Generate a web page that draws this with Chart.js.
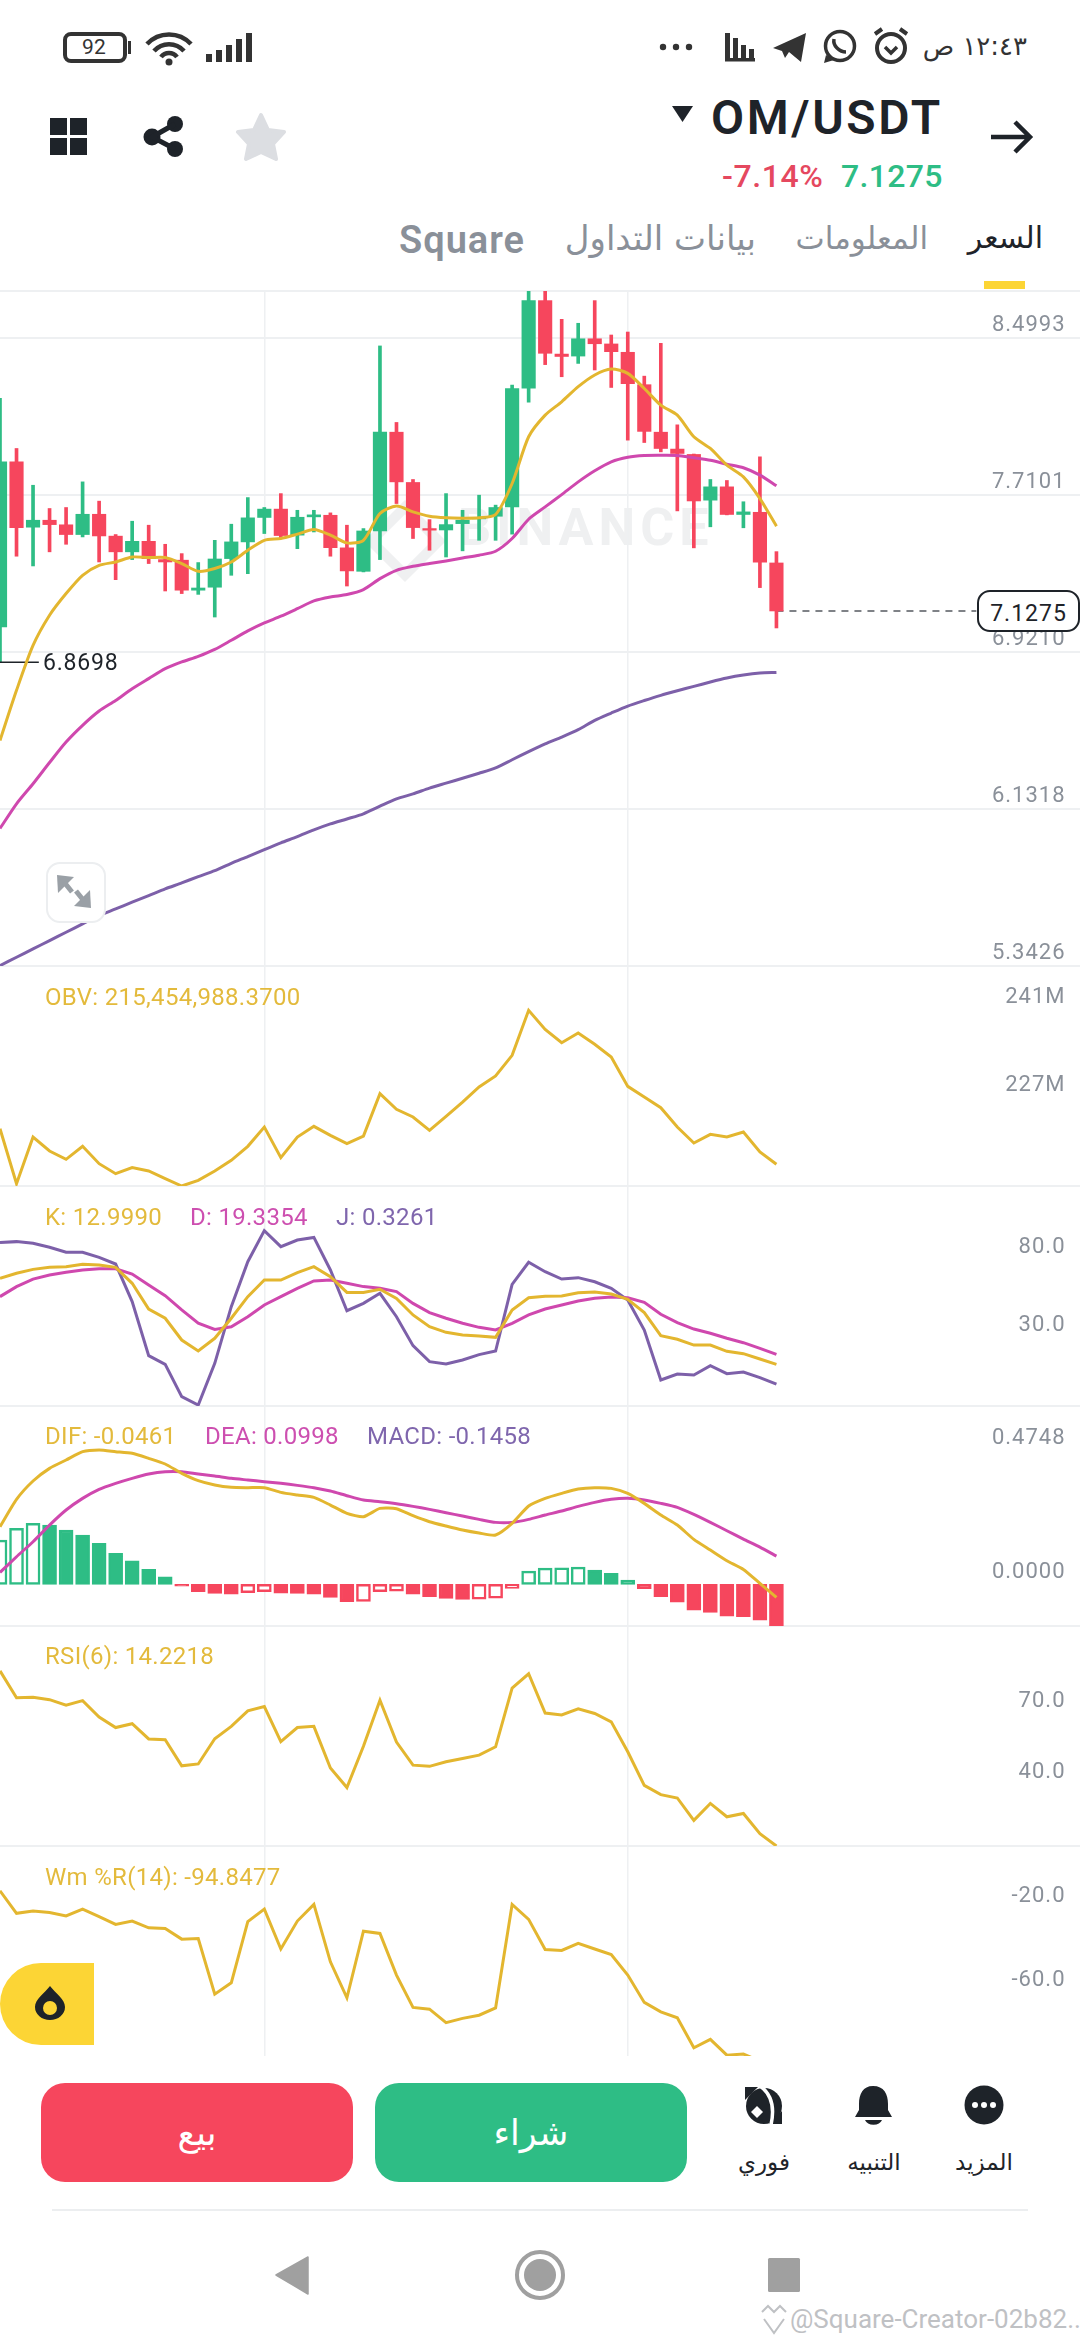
<!DOCTYPE html>
<html lang="ar">
<head>
<meta charset="utf-8">
<title>OM/USDT</title>
<script src="https://cdn.jsdelivr.net/npm/chart.js@4/dist/chart.umd.min.js"></script>
<style>
html,body{margin:0;padding:0;background:#fff;width:1080px;height:2340px;overflow:hidden;font-family:Roboto,"DejaVu Sans",sans-serif}
#page{position:relative;width:1080px;height:2340px;overflow:hidden;background:#fff}
canvas{position:absolute;left:0}
.d{position:absolute;left:0;width:1080px;height:2px;background:#eef0f2}
.t{position:absolute;white-space:nowrap;line-height:26px;font-size:24px;letter-spacing:.3px}
.y{color:#e3ba3c}.m{color:#cd4fb0}.p{color:#7f66ad}
.ar{font-family:"DejaVu Sans",Roboto,sans-serif;direction:rtl}
.btn{position:absolute;top:2083px;height:99px;width:312px;border-radius:24px;color:#fff;text-align:center;line-height:100px;font-size:35px}
</style>
</head>
<body>
<div id="page">
<div style="position:absolute;left:458px;top:500px;font:700 52px/56px Roboto,sans-serif;letter-spacing:5px;color:#eff0f1">BINANCE</div>
<div style="position:absolute;left:376px;top:512px;width:38px;height:38px;border:10px solid #eff0f1;transform:rotate(45deg)"></div>

<div class="d" style="top:290px"></div>
<div class="d" style="top:965px"></div>
<div class="d" style="top:1185px"></div>
<div class="d" style="top:1405px"></div>
<div class="d" style="top:1625px"></div>
<div class="d" style="top:1845px"></div>

<canvas id="cPrice" width="1080" height="675" style="top:291px"></canvas>
<canvas id="cObv" width="1080" height="220" style="top:966px"></canvas>
<canvas id="cKdj" width="1080" height="220" style="top:1186px"></canvas>
<canvas id="cMacd" width="1080" height="220" style="top:1406px"></canvas>
<canvas id="cRsi" width="1080" height="220" style="top:1626px"></canvas>
<canvas id="cWr" width="1080" height="220" style="top:1846px"></canvas>

<div class="t" style="left:43px;top:650px;color:#1e2329;font-size:23px;letter-spacing:.8px">6.8698</div>
<div style="position:absolute;left:977px;top:590px;width:99px;height:38px;border:2px solid #1e2329;border-radius:13px;background:#fff;text-align:center;font-size:23px;line-height:44px;letter-spacing:1px;color:#1e2329">7.1275</div>

<div class="t y" style="left:45px;top:984px">OBV: 215,454,988.3700</div>
<div class="t y" style="left:45px;top:1204px">K: 12.9990</div>
<div class="t m" style="left:190px;top:1204px">D: 19.3354</div>
<div class="t p" style="left:336px;top:1204px">J: 0.3261</div>
<div class="t y" style="left:45px;top:1423px">DIF: -0.0461</div>
<div class="t m" style="left:205px;top:1423px">DEA: 0.0998</div>
<div class="t p" style="left:367px;top:1423px">MACD: -0.1458</div>
<div class="t y" style="left:45px;top:1643px">RSI(6): 14.2218</div>
<div class="t y" style="left:45px;top:1864px">Wm %R(14): -94.8477</div>

<div style="position:absolute;left:46px;top:862px;width:56px;height:57px;border:2px solid #eceef0;border-radius:14px;background:#fff"></div>
<div style="position:absolute;left:0;top:1963px;width:94px;height:82px;background:#fcd535;border-radius:41px 0 0 41px"></div>

<div style="position:absolute;left:0;top:0;width:1080px;height:290px;background:#fff"></div>
<div style="position:absolute;left:0;top:2056px;width:1080px;height:284px;background:#fff"></div>

<div class="t" style="left:63px;top:34px;width:62px;text-align:center;font-size:21px;color:#333">92</div>
<div class="t ar" style="right:53px;top:30px;font-size:26px;line-height:32px;color:#333;letter-spacing:0">١٢:٤٣ ص</div>
<div class="t" style="left:711px;top:90px;font-size:48px;line-height:56px;font-weight:600;letter-spacing:2.6px;color:#1e2329">OM/USDT</div>
<div class="t" style="left:722px;top:158px;font-size:32px;line-height:36px;font-weight:500;letter-spacing:.6px;color:#e5485f">-7.14%</div>
<div class="t" style="left:841px;top:158px;font-size:32px;line-height:36px;font-weight:500;letter-spacing:.3px;color:#2ebd85">7.1275</div>
<div class="t ar" style="left:971px;top:216px;width:72px;text-align:center;font-size:30px;line-height:44px;letter-spacing:0;color:#1e2329">السعر</div>
<div class="t ar" style="left:798px;top:216px;width:130px;text-align:center;font-size:31px;line-height:44px;letter-spacing:0;color:#8a9099">المعلومات</div>
<div class="t ar" style="left:566px;top:216px;width:190px;text-align:center;font-size:34px;line-height:44px;letter-spacing:0;color:#8a9099">بيانات التداول</div>
<div class="t" style="left:399px;top:218px;font-size:38px;line-height:44px;font-weight:600;letter-spacing:1px;color:#8a9099">Square</div>

<div class="btn ar" style="left:41px;background:#f6465d">بيع</div>
<div class="btn ar" style="left:375px;background:#2ebd85">شراء</div>
<div class="t ar" style="left:724px;top:2146px;width:80px;text-align:center;font-size:23px;line-height:32px;letter-spacing:0;color:#1e2329">فوري</div>
<div class="t ar" style="left:834px;top:2146px;width:80px;text-align:center;font-size:23px;line-height:32px;letter-spacing:0;color:#1e2329">التنبيه</div>
<div class="t ar" style="left:944px;top:2146px;width:80px;text-align:center;font-size:23px;line-height:32px;letter-spacing:0;color:#1e2329">المزيد</div>
<div class="t" style="left:790px;top:2304px;font-size:26px;line-height:30px;letter-spacing:0;color:#bfc1c4;text-shadow:0 0 2px #fff">@Square-Creator-02b82...</div>

<svg width="1080" height="2340" viewBox="0 0 1080 2340" style="position:absolute;left:0;top:0;pointer-events:none">
  <rect x="65" y="34" width="60" height="27" rx="6" fill="none" stroke="#333" stroke-width="4"/>
  <rect x="128" y="41" width="3" height="13" fill="#333"/>
  <g fill="none" stroke="#333" stroke-width="4.5">
    <path d="M147 44 A30 30 0 0 1 191 44"/><path d="M154 51 A20 20 0 0 1 184 51"/><path d="M161 57 A10 10 0 0 1 177 57"/>
  </g>
  <circle cx="169" cy="62" r="3.5" fill="#333"/>
  <g fill="#333">
    <rect x="206" y="54" width="6" height="8"/><rect x="216" y="50" width="6" height="12"/><rect x="226" y="45" width="6" height="17"/><rect x="236" y="39" width="6" height="23"/><rect x="246" y="33" width="6" height="29"/>
    <circle cx="663" cy="47" r="3.2"/><circle cx="676" cy="47" r="3.2"/><circle cx="689" cy="47" r="3.2"/>
    <rect x="725" y="33" width="5" height="27"/><rect x="733" y="38" width="5" height="20"/><rect x="741" y="45" width="5" height="13"/><rect x="749" y="49" width="5" height="9"/><rect x="725" y="58" width="30" height="3.5"/>
    <polygon points="773,48 806,33 801,62 789,52 785,58 782,51"/>
  </g>
  <circle cx="840" cy="46" r="14.5" fill="none" stroke="#333" stroke-width="3.5"/>
  <polygon points="826,55 824,63 834,60" fill="#333"/>
  <path d="M834 39 q-1 5 3 9 q4 4 9 4" fill="none" stroke="#333" stroke-width="3.5"/>
  <circle cx="891" cy="48" r="14" fill="none" stroke="#333" stroke-width="4"/>
  <path d="M875 34 l7-5 M907 34 l-7-5" stroke="#333" stroke-width="4"/>
  <path d="M885 47 l6 6 l6-6" fill="none" stroke="#333" stroke-width="3.5"/>
  <g fill="#1e2329">
    <rect x="50" y="118" width="17" height="17"/><rect x="70" y="118" width="17" height="17"/><rect x="50" y="138" width="17" height="17"/><rect x="70" y="138" width="17" height="17"/>
    <circle cx="175" cy="124" r="8"/><circle cx="175" cy="149" r="8"/><circle cx="152" cy="137" r="8.5"/>
    <polygon points="672,106 693,106 682.5,122"/>
  </g>
  <path d="M175 124 L152 137 L175 149" fill="none" stroke="#1e2329" stroke-width="5"/>
  <polygon points="261,115 268,130 284,132 273,144 276,159 261,152 246,159 249,144 238,132 254,130" fill="#dcdee2" stroke="#dcdee2" stroke-width="4" stroke-linejoin="round"/>
  <path d="M991 137 H1029 M1015 122 L1030 137 L1015 152" fill="none" stroke="#1e2329" stroke-width="4.5"/>
  <rect x="984" y="281" width="41" height="8" fill="#fcd535"/>
  <g fill="#9aa0a6">
    <polygon points="57,875 74,877 58,893"/><polygon points="91,908 74,906 90,890"/>
  </g>
  <path d="M64 882 L72 892 M84 901 L76 891" stroke="#9aa0a6" stroke-width="5"/>
  <path d="M50 1986 C56 1994 65 1999 65 2007 A15 13 0 0 1 35 2007 C35 1999 44 1994 50 1986Z" fill="#1e2329"/>
  <circle cx="50" cy="2008" r="7" fill="#fcd535"/>
  <circle cx="764" cy="2106" r="18" fill="#1e2329"/>
  <polygon points="745,2087 758,2087 745,2100" fill="#1e2329"/><polygon points="782,2124 769,2124 782,2111" fill="#1e2329"/>
  <path d="M760 2086 Q777 2098 771 2125" fill="none" stroke="#fff" stroke-width="3.5"/>
  <polygon points="757,2106 763,2112 757,2118 751,2112" fill="#fff"/>
  <path d="M873 2086 C884 2086 888 2094 888 2104 L888 2110 L892 2117 H855 L859 2110 L859 2104 C859 2094 863 2086 873 2086Z" fill="#1e2329"/>
  <path d="M865 2120 H882 A9 7 0 0 1 865 2120Z" fill="#1e2329"/>
  <circle cx="984" cy="2105" r="19.5" fill="#1e2329"/>
  <g fill="#fff"><circle cx="975" cy="2105" r="3"/><circle cx="984" cy="2105" r="3"/><circle cx="993" cy="2105" r="3"/></g>
  <rect x="52" y="2209" width="976" height="2" fill="#eceef0"/>
  <polygon points="308,2257 308,2294 276,2275" fill="#a0a0a0" stroke="#a0a0a0" stroke-width="1.5" stroke-linejoin="round"/>
  <circle cx="540" cy="2275" r="23" fill="none" stroke="#a0a0a0" stroke-width="4"/>
  <circle cx="540" cy="2275" r="16" fill="#a0a0a0"/>
  <rect x="768" y="2258" width="32" height="34" rx="1.5" fill="#a0a0a0"/>
  <path d="M762 2312 l6-6 l6 6 l6-6 l6 6 M764 2319 l10 14 l10-14" fill="none" stroke="#bfc1c4" stroke-width="2"/>
</svg>
</div>

<script>
// Axis tick labels
const priceTicks = [8.4993, 7.7101, 6.9210, 6.1318, 5.3426];
const obvTicks = [241, 227];
const kdjTicks = [80, 30];
const macdTicks = [0.4748, 0];
const rsiTicks = [70, 40];
const wrTicks = [-20, -60];
const timeGridCandles = [16, 38];

// Candles
const open = [7.047,7.878,7.549,7.584,7.561,7.512,7.614,7.504,7.425,7.478,7.386,7.383,7.232,7.247,7.391,7.475,7.598,7.640,7.509,7.601,7.609,7.445,7.327,7.530,8.027,7.774,7.542,7.535,7.567,7.591,7.604,7.651,8.249,8.689,8.420,8.410,8.497,8.471,8.429,8.266,8.027,7.942,7.915,7.685,7.752,7.613,7.624,7.369];
const high = [8.197,7.945,7.760,7.643,7.648,7.777,7.680,7.512,7.579,7.559,7.463,7.416,7.371,7.483,7.564,7.698,7.648,7.718,7.634,7.634,7.621,7.559,7.542,8.461,8.076,7.789,7.587,7.718,7.634,7.710,7.660,8.264,8.760,8.760,8.595,8.575,8.689,8.516,8.531,8.309,8.474,8.064,7.917,7.789,7.784,7.677,7.903,7.426];
const low = [6.8698,7.403,7.354,7.425,7.463,7.500,7.374,7.285,7.386,7.366,7.228,7.215,7.211,7.097,7.307,7.315,7.517,7.492,7.441,7.525,7.403,7.253,7.324,7.386,7.668,7.492,7.433,7.399,7.430,7.483,7.483,7.514,8.178,8.367,8.306,8.373,8.340,8.252,7.987,7.975,7.928,7.631,7.445,7.551,7.611,7.546,7.245,7.042];
const close = [7.878,7.547,7.584,7.562,7.512,7.614,7.505,7.425,7.478,7.391,7.374,7.232,7.243,7.389,7.475,7.596,7.640,7.507,7.599,7.611,7.446,7.329,7.530,8.027,7.777,7.547,7.534,7.562,7.584,7.598,7.648,8.246,8.689,8.424,8.408,8.497,8.472,8.432,8.271,8.031,7.945,7.920,7.681,7.752,7.613,7.626,7.373,7.1275];

// Moving averages
const ma7 = [6.476,6.728,6.954,7.106,7.215,7.307,7.357,7.374,7.399,7.396,7.396,7.366,7.327,7.341,7.374,7.433,7.483,7.492,7.514,7.537,7.509,7.470,7.483,7.618,7.655,7.626,7.604,7.596,7.594,7.596,7.613,7.769,8.004,8.113,8.180,8.256,8.315,8.345,8.323,8.247,8.163,8.113,8.004,7.945,7.861,7.802,7.693,7.554];
const ma25 = [6.033,6.157,6.258,6.365,6.468,6.552,6.624,6.677,6.736,6.787,6.837,6.871,6.899,6.934,6.980,7.027,7.067,7.101,7.139,7.178,7.198,7.210,7.235,7.290,7.332,7.352,7.366,7.379,7.394,7.408,7.428,7.492,7.589,7.651,7.713,7.777,7.833,7.878,7.901,7.910,7.911,7.910,7.898,7.886,7.866,7.848,7.811,7.757];
const ma99 = [5.343,5.385,5.427,5.469,5.511,5.553,5.595,5.628,5.662,5.695,5.729,5.759,5.791,5.821,5.858,5.892,5.927,5.961,5.992,6.026,6.056,6.081,6.107,6.145,6.182,6.207,6.236,6.261,6.286,6.311,6.338,6.379,6.420,6.459,6.493,6.530,6.577,6.614,6.649,6.677,6.703,6.726,6.748,6.770,6.790,6.805,6.815,6.818];
const lastPrice = 7.1275;
const lowestPrice = 6.8698;

// OBV in millions
const obv = [221.12,212.37,219.79,217.57,216.24,218.31,215.55,213.96,214.92,214.39,213.17,212.0,212.9,214.39,216.08,218.31,221.38,216.51,219.79,221.49,220.06,218.73,219.95,226.69,224.2,222.98,220.85,223.08,225.36,227.75,229.5,232.79,239.95,236.92,234.8,236.34,234.54,232.52,227.85,226.16,224.46,221.38,218.84,220.22,219.79,220.59,217.41,215.45];

// KDJ
const kdjK = [67.9,71.1,73.6,74.9,75.3,76.8,76.4,74.9,64.7,48.3,42.4,28.5,21.5,29.6,42.4,56.2,66.8,66.8,71.5,75.3,68.9,58.9,58.9,60.9,55.1,44.5,37.0,33.4,31.7,31.1,30.2,47.7,55.5,56.4,56.6,58.7,59.2,57.9,54.5,46.0,31.3,29.0,25.3,25.3,21.3,19.8,16.4,13.0];
const kdjD = [56.2,62.6,67.4,70.0,71.7,73.2,74.0,74.0,70.6,63.6,56.8,47.7,39.2,35.3,37.0,43.4,50.9,56.2,61.5,66.2,66.8,64.7,62.6,61.5,59.4,51.9,46.0,42.4,39.2,36.6,34.9,39.2,44.5,48.3,50.9,53.4,55.1,56.0,55.5,52.6,44.9,39.6,35.5,32.8,29.6,26.8,23.2,19.3];
const kdjJ = [90.8,91.3,90.2,87.7,84.5,84.5,81.3,77.0,53.0,18.5,13.0,-7.6,-13.0,13.6,49.8,78.5,98.3,88.1,92.3,94.0,73.2,47.2,51.9,58.3,43.4,24.9,14.7,13.2,15.8,19.2,21.5,64.0,78.1,72.1,67.4,68.3,65.7,61.5,54.0,34.9,3.0,6.8,6.2,12.1,7.0,8.1,4.5,0.3];

// MACD
const dif = [0.2038,0.3005,0.3653,0.4100,0.4395,0.4690,0.4748,0.4690,0.4631,0.4454,0.4254,0.3924,0.3664,0.3511,0.3429,0.3417,0.3417,0.3252,0.3158,0.3075,0.2804,0.2510,0.2392,0.2686,0.2675,0.2427,0.2215,0.2062,0.1921,0.1815,0.1744,0.2156,0.2769,0.3040,0.3217,0.3370,0.3417,0.3393,0.3217,0.2863,0.2451,0.2097,0.1591,0.1214,0.0837,0.0530,0.0035,-0.0461];
const dea = [0.0424,0.0978,0.1508,0.2097,0.2628,0.3040,0.3358,0.3570,0.3747,0.3900,0.3983,0.3983,0.3900,0.3829,0.3747,0.3688,0.3629,0.3570,0.3499,0.3417,0.3299,0.3134,0.2981,0.2922,0.2851,0.2757,0.2651,0.2533,0.2415,0.2298,0.2192,0.2192,0.2298,0.2451,0.2592,0.2757,0.2899,0.3005,0.3040,0.2981,0.2863,0.2722,0.2474,0.2192,0.1897,0.1602,0.1320,0.0998];
const macd = [0.1567,0.1979,0.2156,0.2097,0.1921,0.1744,0.1449,0.1096,0.0837,0.0530,0.0271,-0.0059,-0.0259,-0.0318,-0.0342,-0.0295,-0.0259,-0.0306,-0.0318,-0.0342,-0.0460,-0.0613,-0.0601,-0.0259,-0.0236,-0.0342,-0.0436,-0.0495,-0.0530,-0.0518,-0.0483,-0.0141,0.0471,0.0577,0.0589,0.0613,0.0507,0.0389,0.0153,-0.0153,-0.0436,-0.0624,-0.0907,-0.0990,-0.1119,-0.1143,-0.1261,-0.1458];

// RSI and Williams %R
const rsi = [87.8,76.5,76.7,75.7,73.4,75.3,68.4,64.0,65.6,59.2,58.9,47.9,48.7,59.3,64.5,71.0,72.8,58.1,64.0,64.5,47.0,38.8,56.1,75.5,57.9,48.2,47.7,49.6,51.0,52.4,55.9,80.6,86.6,70.1,69.3,71.9,69.9,66.4,53.8,39.7,35.8,34.4,25.0,32.1,26.5,27.9,19.4,14.2218];
const wr = [-11.5,-22.2,-21.1,-21.8,-23.5,-20.2,-23.8,-27.5,-25.9,-29.1,-29.4,-34.5,-34.2,-60.7,-55.3,-26.2,-20.2,-39.2,-25.9,-18.0,-45.3,-62.4,-30.7,-31.8,-51.6,-67.0,-67.8,-74.2,-72.2,-70.7,-67.2,-18.0,-25.1,-39.4,-39.9,-36.5,-39.2,-41.8,-51.6,-64.6,-69.1,-71.9,-86.2,-82.2,-89.7,-89.2,-92.5,-94.8477];

const UP = '#2ebd85', DOWN = '#f6465d', YEL = '#e3b62f', MAG = '#cf48ae', PUR = '#7d60a9', GRID = '#eef0f2';
const CANDLE_PX = 16.52;

const points = arr => arr.map((y, x) => ({x, y}));
const line = (data, color, extra) => Object.assign({type: 'line', data: points(data), borderColor: color, borderWidth: 3, pointRadius: 0, tension: 0, order: 0, fill: false}, extra || {});

const letterSpacing = {id: 'ls', beforeDraw(c) { c.ctx.letterSpacing = '1px'; }};

function pane(id, datasets, min, max, ticks, fmt, showGrid, labelOffset) {
  const canvas = document.getElementById(id);
  return new Chart(canvas, {
    type: 'bar',
    data: {datasets},
    plugins: [letterSpacing],
    options: {
      responsive: false,
      animation: false,
      events: [],
      layout: {padding: 0},
      plugins: {legend: {display: false}, tooltip: {enabled: false}, title: {display: false}},
      scales: {
        x: {
          type: 'linear', offset: false, min: 0, max: canvas.width / CANDLE_PX,
          afterBuildTicks: a => { a.ticks = timeGridCandles.map(value => ({value})); },
          afterFit: a => { a.paddingLeft = 0; a.paddingRight = 0; a.height = 0; },
          ticks: {display: false},
          border: {display: false},
          grid: {color: GRID, lineWidth: 1.5, drawTicks: false, offset: false}
        },
        y: {
          position: 'right', min, max,
          afterBuildTicks: a => { a.ticks = ticks.map(value => ({value})); },
          afterFit: a => { a.paddingTop = 0; a.paddingBottom = 0; a.width = 0; },
          border: {display: false},
          grid: {display: showGrid, color: GRID, lineWidth: 2, drawTicks: false},
          ticks: {
            mirror: true, padding: -14.5, autoSkip: false, labelOffset, color: '#8a9099',
            font: {family: 'Roboto', size: 22},
            callback: fmt
          }
        }
      }
    }
  });
}

const candleColors = open.map((o, i) => close[i] >= o ? UP : DOWN);
pane('cPrice', [
  line(ma7, YEL, {tension: 0.25}),
  line(ma25, MAG, {tension: 0.25}),
  line(ma99, PUR, {tension: 0.25}),
  {type: 'line', data: [{x: 47, y: lastPrice}, {x: 59.1, y: lastPrice}], borderColor: '#555a60', borderWidth: 1.5, borderDash: [7, 6], pointRadius: 0, order: 3},
  {type: 'line', data: [{x: 0, y: lowestPrice}, {x: 2.35, y: lowestPrice}], borderColor: '#1e2329', borderWidth: 1.5, pointRadius: 0, order: 0},
  {type: 'bar', data: open.map((o, i) => ({x: i, y: [o, close[i]]})), backgroundColor: candleColors, barThickness: 13.5, grouped: false, order: 1},
  {type: 'bar', data: low.map((l, i) => ({x: i, y: [l, high[i]]})), backgroundColor: candleColors, barThickness: 3, grouped: false, order: 2}
], 5.3411, 8.7374, priceTicks, v => v.toFixed(4), true, -12.5);

pane('cObv', [line(obv, YEL)], 212.0, 247.0, obvTicks, v => v + 'M', false, -6.5);
pane('cKdj', [line(kdjK, YEL), line(kdjD, MAG), line(kdjJ, PUR)], -13.6, 126.8, kdjTicks, v => v.toFixed(1), false, -12);

const macdColor = macd.map(v => v >= 0 ? UP : DOWN);
const macdFill = macd.map((v, i) => (i === 0 || v > macd[i - 1]) ? '#ffffff' : (v >= 0 ? UP : DOWN));
pane('cMacd', [
  line(dif, YEL, {tension: 0.2}),
  line(dea, MAG, {tension: 0.2}),
  {type: 'bar', data: points(macd), backgroundColor: macdFill, borderColor: macdColor, borderWidth: 2.5, borderSkipped: false, barThickness: 14, grouped: false, order: 1}
], -0.1469, 0.6303, macdTicks, v => v.toFixed(4), false, -11.5);

pane('cRsi', [line(rsi, YEL)], 14.2218, 106.67, rsiTicks, v => v.toFixed(1), false, -12);
pane('cWr', [line(wr, YEL)], -94.8477, 9.8, wrTicks, v => v.toFixed(1), false, -12);
</script>
</body>
</html>
